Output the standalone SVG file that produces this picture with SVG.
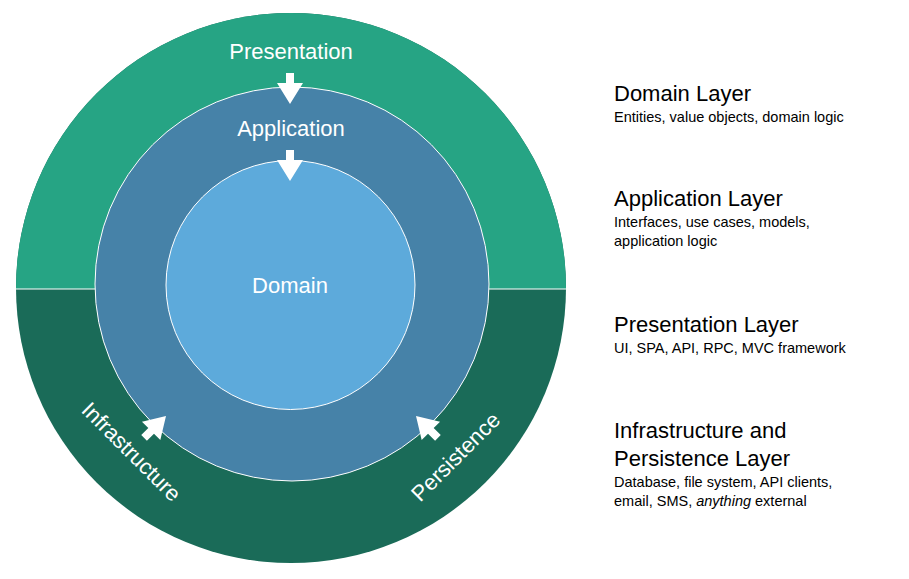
<svg xmlns="http://www.w3.org/2000/svg" width="909" height="579" viewBox="0 0 909 579">
<style>
.w{fill:#fff;font-family:"Liberation Sans",Arial,sans-serif}
.h{font-family:"Liberation Sans",Arial,sans-serif;font-size:22px;fill:#000}
.s{font-family:"Liberation Sans",Arial,sans-serif;font-size:14.5px;fill:#000}
.ar{fill:#fff}
</style>
<defs><clipPath id="top"><rect x="0" y="0" width="909" height="289"/></clipPath></defs>
<rect width="909" height="579" fill="#fff"/>
<g id="outer">
<circle cx="291" cy="288" r="275" fill="#1A6B58"/>
<circle cx="291" cy="288" r="275" fill="#26A484" clip-path="url(#top)"/>
<line x1="16" y1="289" x2="566" y2="289" stroke="#fff" stroke-width="1"/>
<text class="w" x="291" y="59" font-size="22" text-anchor="middle">Presentation</text>
<text class="w" font-size="22" text-anchor="middle" transform="translate(126,457) rotate(45)">Infrastructure</text>
<text class="w" font-size="22" text-anchor="middle" transform="translate(461,462) rotate(-45)">Persistence</text>
</g>
<g id="application">
<circle cx="292" cy="284" r="197" fill="#4682A8" stroke="#fff" stroke-width="1"/>
<text class="w" x="291" y="136" font-size="22" text-anchor="middle">Application</text>
</g>
<g id="domain">
<circle cx="290.5" cy="285" r="124.5" fill="#5DAADB" stroke="#fff" stroke-width="1"/>
<text class="w" x="290" y="293" font-size="22" text-anchor="middle">Domain</text>
</g>
<g id="connectors">
<polygon class="ar" points="286,73 294,73 294,83 303,83 290,104 277,83 286,83"/>
<polygon class="ar" points="286,150 294,150 294,160 303,160 290,181 277,160 286,160"/>
<g transform="translate(166,416) rotate(45)"><polygon class="ar" points="0,0 13,21 4,21 4,31 -4,31 -4,21 -13,21"/></g>
<g transform="translate(416,416) rotate(-45)"><polygon class="ar" points="0,0 13,21 4,21 4,31 -4,31 -4,21 -13,21"/></g>
</g>
<g id="legend">
<text class="h" x="614" y="101">Domain Layer</text>
<text class="s" x="614" y="122">Entities, value objects, domain logic</text>
<text class="h" x="614" y="206">Application Layer</text>
<text class="s" x="614" y="227">Interfaces, use cases, models,</text>
<text class="s" x="614" y="246">application logic</text>
<text class="h" x="614" y="332">Presentation Layer</text>
<text class="s" x="614" y="353">UI, SPA, API, RPC, MVC framework</text>
<text class="h" x="614" y="438">Infrastructure and</text>
<text class="h" x="614" y="466">Persistence Layer</text>
<text class="s" x="614" y="487">Database, file system, API clients,</text>
<text class="s" x="614" y="506">email, SMS, <tspan font-style="italic">anything</tspan> external</text>
</g>
</svg>
